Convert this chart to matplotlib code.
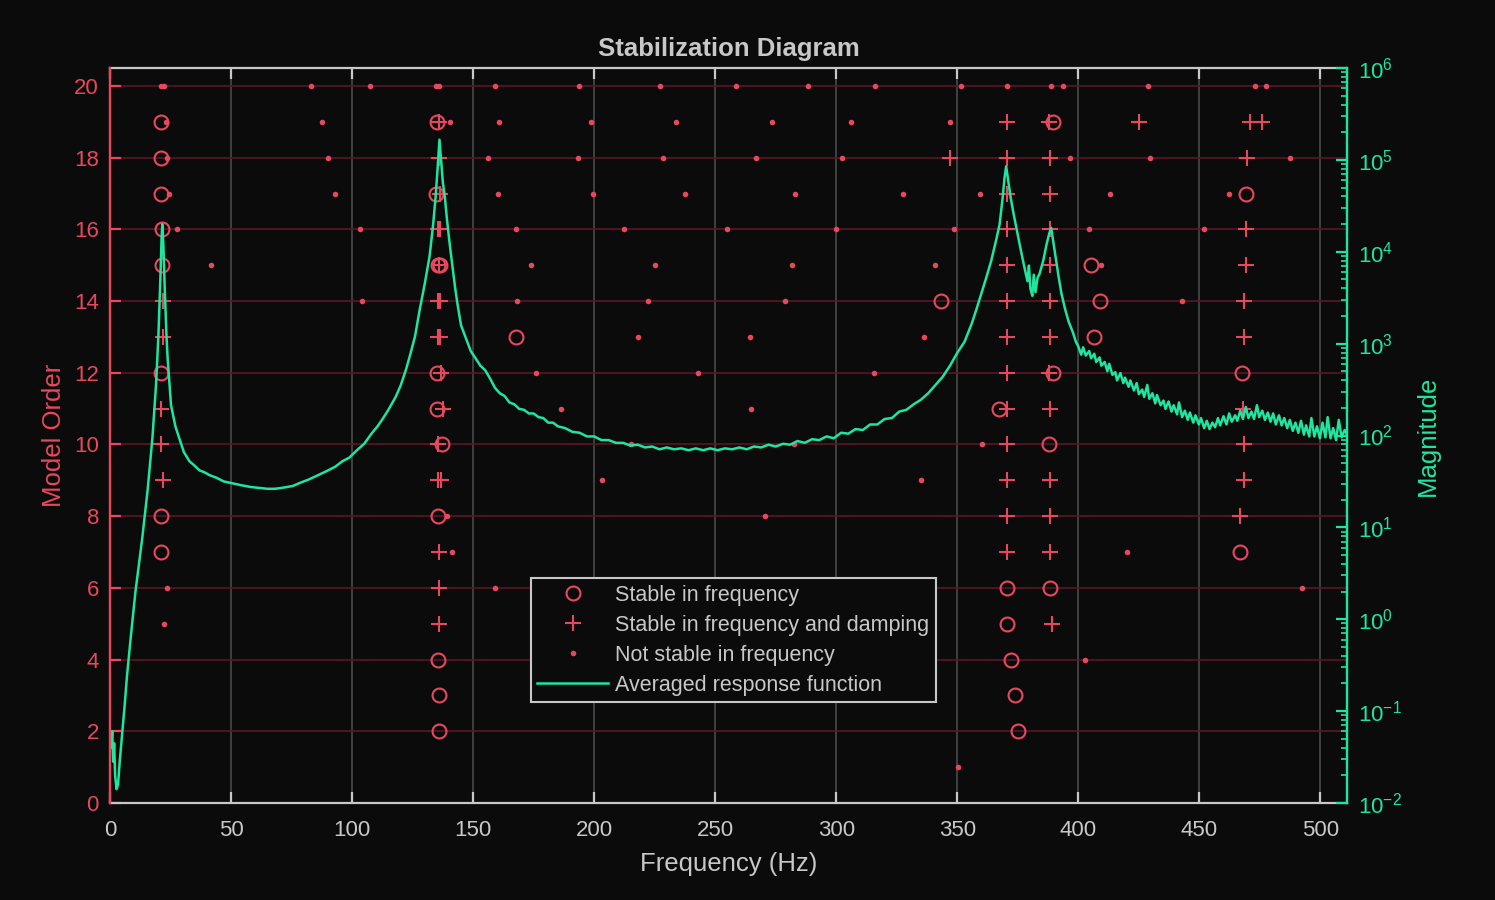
import numpy as np
import matplotlib
matplotlib.use("Agg")
import matplotlib.pyplot as plt
from matplotlib.ticker import LogLocator, NullFormatter, MultipleLocator

plt.rcParams['font.family'] = ['Liberation Sans', 'DejaVu Sans']
plt.rcParams['mathtext.fontset'] = 'custom'
plt.rcParams['mathtext.rm'] = 'Liberation Sans'

# couleurs
BG = '#0b0b0b'
RED = '#e8485e'
GREEN = '#1ee6a0'
GREY = '#c8c8c8'

# poles stables en frequence (cercles)
circ_freq = [21.0, 21.0, 21.0, 21.3, 21.3, 21.0, 21.0, 21.0,
             135.0, 134.7, 135.5, 136.5, 135.1, 135.1, 137.0, 135.4, 135.4, 135.8, 136.1,
             167.6, 343.1,
             367.2, 370.4, 370.4, 372.0, 374.0, 375.1,
             389.7, 405.4, 408.9, 406.3, 389.7, 388.0, 388.2,
             469.4, 467.6, 466.6]
circ_order = [19, 18, 17, 16, 15, 12, 8, 7,
              19, 17, 15, 15, 12, 11, 10, 8, 4, 3, 2,
              13, 14,
              11, 6, 5, 4, 3, 2,
              19, 15, 14, 13, 12, 10, 6,
              17, 12, 7]

# poles stables en frequence et amortissement (plus)
plus_freq = [21.7, 21.7, 21.0, 21.0, 21.7,
             136.1, 135.7, 136.5, 135.3, 136.5, 136.0, 135.3, 136.5, 135.3, 136.5,
             136.8, 137.4, 135.5, 135.5, 136.6, 135.7, 135.7, 135.7,
             346.8,
             370.4, 370.4, 370.4, 370.4, 370.4, 370.4, 370.4, 370.4, 370.4, 370.4, 370.4, 370.4, 370.4,
             388.0, 388.2, 388.2, 388.2, 388.2, 388.2, 388.2, 388.0, 388.2, 388.2, 388.2, 388.2, 389.0,
             424.9, 471.1, 475.7, 469.8, 469.3, 469.3, 468.4, 468.4, 468.0, 468.4, 468.4, 466.9]
plus_order = [14, 13, 11, 10, 9,
              19, 18, 17, 16, 16, 15, 14, 14, 13, 13,
              12, 11, 10, 9, 9, 7, 6, 5,
              18,
              19, 18, 17, 16, 15, 14, 13, 12, 11, 10, 9, 8, 7,
              19, 18, 17, 16, 15, 14, 13, 12, 11, 9, 8, 7, 5,
              19, 19, 19, 18, 16, 15, 14, 13, 11, 10, 9, 8]

# poles non stables (points)
dot_freq = [21.2, 22.4, 83.2, 107.6, 134.8, 136.1, 159.2, 193.9, 227.0, 258.4, 288.2, 316.2,
            351.4, 370.4, 388.6, 393.5, 428.7, 472.9, 477.4,
            23.1, 87.6, 140.5, 160.6, 198.6, 233.9, 273.4, 306.2, 346.8,
            23.5, 90.1, 156.3, 193.4, 228.5, 266.7, 302.2, 396.4, 429.5, 487.3,
            24.2, 93.0, 160.2, 199.6, 237.7, 282.9, 327.7, 359.3, 412.9, 462.2,
            27.7, 103.1, 167.8, 212.2, 254.8, 299.7, 348.5, 404.3, 452.1,
            41.6, 174.0, 225.3, 281.8, 341.0, 409.3,
            104.0, 168.0, 222.4, 278.8, 442.8,
            218.3, 264.5, 336.1,
            176.0, 242.7, 315.7,
            186.1, 264.9,
            215.3, 282.6, 360.2,
            203.3, 335.1,
            139.1, 270.4,
            141.3, 420.2,
            23.5, 159.2, 492.6,
            22.1,
            402.9,
            350.5]
dot_order = [20] * 19 + [19] * 9 + [18] * 10 + [17] * 10 + [16] * 9 + [15] * 6 + [14] * 5 \
    + [13] * 3 + [12] * 3 + [11] * 2 + [10] * 3 + [9] * 2 + [8] * 2 + [7] * 2 + [6] * 3 \
    + [5] + [4] + [1]

# fonction de reponse moyenne : (frequence, log10 magnitude)
resp_low = [(0.0, -1.28), (0.5, -1.40), (0.9, -1.22), (1.3, -1.55), (1.7, -1.35), (2.1, -1.70),
            (2.7, -1.85), (3.3, -1.80), (4.0, -1.55), (5.0, -1.25), (6.0, -0.95), (7.0, -0.62),
            (8.5, -0.21), (10.5, 0.30), (13.3, 0.88), (15.5, 1.40), (17.5, 1.97), (19.0, 2.55),
            (20.0, 3.10), (20.8, 3.71), (21.3, 4.15), (21.6, 4.30), (22.0, 4.10), (22.6, 3.60),
            (23.3, 3.10), (23.8, 2.84), (25.2, 2.33), (27.0, 2.10), (28.6, 1.97), (30.5, 1.82),
            (32.8, 1.72), (35.0, 1.67), (37.0, 1.62), (39.0, 1.60), (41.0, 1.57), (44.0, 1.54),
            (47.0, 1.50), (50.5, 1.48), (54.0, 1.46), (58.0, 1.44), (61.7, 1.43), (65.0, 1.42),
            (68.0, 1.42), (71.0, 1.43), (75.4, 1.45), (79.0, 1.49), (82.0, 1.52), (86.0, 1.57),
            (89.3, 1.61), (93.0, 1.66), (96.0, 1.72), (98.9, 1.76), (102.0, 1.84), (105.0, 1.91),
            (108.0, 2.02), (110.5, 2.10), (112.6, 2.18), (115.0, 2.28), (118.0, 2.42),
            (120.0, 2.54), (122.3, 2.72), (124.0, 2.88), (126.0, 3.08), (128.0, 3.38),
            (130.0, 3.65), (132.0, 3.95), (133.5, 4.30), (134.5, 4.60), (135.3, 4.90),
            (136.1, 5.22), (136.8, 4.98), (137.5, 4.75), (138.3, 4.60), (139.2, 4.35),
            (140.2, 4.11), (141.3, 3.88), (142.5, 3.62), (143.6, 3.42)]
resp_mid = [(145.0, 3.20), (147.0, 3.06), (149.0, 2.92), (151.0, 2.84), (153.0, 2.76),
            (155.0, 2.71), (157.0, 2.62), (159.0, 2.52), (161.0, 2.46), (163.0, 2.43),
            (165.0, 2.36), (167.0, 2.34), (169.0, 2.29), (171.0, 2.28), (173.0, 2.24),
            (175.0, 2.24), (177.0, 2.20), (179.0, 2.19), (181.0, 2.14), (183.0, 2.14),
            (185.0, 2.10), (188.0, 2.08), (191.0, 2.04), (194.0, 2.03), (197.0, 1.99),
            (200.0, 1.99), (203.0, 1.95), (206.0, 1.95), (209.0, 1.92), (212.0, 1.92),
            (215.0, 1.89), (218.0, 1.90), (221.0, 1.87), (224.0, 1.88), (227.0, 1.85),
            (230.0, 1.87), (233.0, 1.85), (236.0, 1.86), (239.0, 1.84), (242.0, 1.86),
            (245.0, 1.84), (248.0, 1.86), (251.0, 1.84), (254.0, 1.86), (257.0, 1.85),
            (260.0, 1.87), (263.0, 1.85), (266.0, 1.88), (269.0, 1.87), (272.0, 1.90),
            (275.0, 1.88), (278.0, 1.91), (281.0, 1.90), (284.0, 1.94), (287.0, 1.92),
            (290.0, 1.96), (293.0, 1.95), (296.0, 1.99), (299.0, 1.97), (302.0, 2.03),
            (305.0, 2.02), (308.0, 2.07), (311.0, 2.06), (314.0, 2.12), (317.0, 2.12),
            (320.0, 2.18), (323.0, 2.19), (326.0, 2.26), (329.0, 2.28), (332.0, 2.34),
            (335.0, 2.39), (338.0, 2.46), (341.0, 2.55), (344.0, 2.64), (347.0, 2.76),
            (350.0, 2.90), (353.0, 3.02), (356.0, 3.22), (358.0, 3.38), (360.0, 3.55),
            (362.0, 3.72), (364.0, 3.90), (366.0, 4.12), (367.5, 4.30), (368.8, 4.60),
            (369.5, 4.80), (370.2, 4.93), (371.0, 4.78), (372.0, 4.60), (373.0, 4.45),
            (374.5, 4.25), (376.0, 4.05), (377.5, 3.86), (379.0, 3.68), (379.6, 3.85),
            (380.2, 3.60), (381.0, 3.52), (381.6, 3.75), (382.3, 3.56), (383.2, 3.72),
            (384.0, 3.76), (385.5, 3.90), (386.8, 4.07), (388.0, 4.20), (388.8, 4.26),
            (389.6, 4.12), (390.6, 3.95), (391.8, 3.74), (393.0, 3.55), (394.5, 3.38),
            (396.0, 3.24), (397.8, 3.12), (399.0, 3.02)]
resp_tail = [(400.0, 2.97), (401.2, 2.88), (402.0, 2.96), (403.1, 2.87), (404.5, 2.92),
             (405.3, 2.84), (406.6, 2.89), (407.4, 2.80), (408.8, 2.85), (409.5, 2.76),
             (410.9, 2.80), (412.0, 2.70), (412.8, 2.78), (414.1, 2.66), (415.3, 2.69),
             (416.0, 2.60), (417.4, 2.68), (418.6, 2.57), (419.3, 2.63), (420.8, 2.53),
             (421.5, 2.60), (423.0, 2.49), (424.1, 2.57), (425.0, 2.45), (426.4, 2.50),
             (427.2, 2.42), (428.5, 2.55), (429.3, 2.40), (430.6, 2.46), (431.8, 2.35),
             (432.5, 2.44), (434.0, 2.33), (435.2, 2.38), (436.0, 2.29), (437.3, 2.37),
             (438.5, 2.26), (439.4, 2.33), (440.8, 2.23), (441.6, 2.36), (442.9, 2.20),
             (444.0, 2.27), (445.2, 2.17), (446.1, 2.25), (447.5, 2.14), (448.4, 2.22),
             (449.8, 2.12), (450.7, 2.19), (452.0, 2.08), (453.1, 2.16), (454.2, 2.07),
             (455.4, 2.14), (456.5, 2.09), (457.7, 2.19), (458.6, 2.11), (460.0, 2.21),
             (461.2, 2.12), (462.3, 2.24), (463.4, 2.15), (464.8, 2.22), (465.7, 2.16),
             (466.9, 2.27), (468.0, 2.18), (469.2, 2.31), (470.3, 2.19), (471.5, 2.26),
             (472.6, 2.18), (473.8, 2.33), (474.7, 2.20), (476.0, 2.27), (477.1, 2.17),
             (478.3, 2.25), (479.4, 2.15), (480.5, 2.24), (481.6, 2.12), (482.9, 2.22),
             (484.0, 2.11), (485.1, 2.19), (486.3, 2.08), (487.4, 2.17), (488.6, 2.05),
             (489.7, 2.14), (490.9, 2.03), (492.0, 2.16), (493.2, 2.01), (494.1, 2.11),
             (495.4, 1.99), (496.3, 2.19), (497.5, 1.99), (498.6, 2.10), (499.8, 1.97),
             (500.9, 2.14), (502.1, 1.98), (503.0, 2.20), (504.2, 1.97), (505.3, 2.08),
             (506.5, 1.95), (507.6, 2.17), (508.8, 1.98), (510.0, 2.06), (511.0, 2.01)]

resp = np.array(resp_low + resp_mid + resp_tail)

fig = plt.figure(figsize=(14.95, 9), dpi=100, facecolor=BG)
ax = fig.add_axes([0.0736, 0.1078, 0.8274, 0.8166], facecolor=BG)
ax2 = ax.twinx()

# diagramme de stabilisation (axe gauche)
h1, = ax.plot(circ_freq, circ_order, 'o', mfc='none', mec=RED, mew=1.5, ms=10,
              label='Stable in frequency')
h2, = ax.plot(plus_freq, plus_order, '+', color=RED, mew=1.5, ms=12,
              label='Stable in frequency and damping')
h3, = ax.plot(dot_freq, dot_order, 'o', color=RED, mec='none', ms=4,
              label='Not stable in frequency')

ax.set_xlim(0, 511)
ax.set_ylim(0, 20.5)
ax.xaxis.set_major_locator(MultipleLocator(50))
ax.yaxis.set_major_locator(MultipleLocator(2))
ax.grid(axis='x', color='#4a4a4a', lw=1.2)
ax.grid(axis='y', color='#5a1626', lw=1.2)
ax.set_axisbelow(True)

# reponse moyenne (axe droit, log)
h4, = ax2.semilogy(resp[:, 0], np.power(10.0, resp[:, 1]), color=GREEN, lw=1.8,
                   label='Averaged response function')
ax2.set_ylim(1e-2, 1e6)
ax2.yaxis.set_major_locator(LogLocator(base=10, numticks=20))
ax2.yaxis.set_minor_locator(LogLocator(base=10, subs=np.arange(2, 10), numticks=20))
ax2.yaxis.set_minor_formatter(NullFormatter())

# style des axes
for a in (ax, ax2):
    a.spines['left'].set_color(RED)
    a.spines['right'].set_color(GREEN)
    a.spines['left'].set_linewidth(1.6)
    a.spines['right'].set_linewidth(1.6)
    a.spines['top'].set_visible(False)
    a.spines['bottom'].set_visible(False)
    a.xaxis.offsetText.set_visible(False)
    a.yaxis.offsetText.set_visible(False)
for s in ['top', 'bottom']:
    ax.spines[s].set_visible(True)
    ax.spines[s].set_color(GREY)
    ax.spines[s].set_linewidth(1.6)

ax.tick_params(axis='x', which='both', direction='in', top=True, bottom=True,
               colors=GREY, labelsize=16, length=8, width=1.6, pad=12)
ax.tick_params(axis='y', direction='in', left=True, right=False, colors=RED,
               labelsize=16, length=8, width=1.6, pad=8)
ax2.tick_params(axis='y', which='major', direction='in', colors=GREEN,
                labelsize=16, length=8, width=1.6, pad=8)
ax2.tick_params(axis='y', which='minor', direction='in', colors=GREEN,
                length=4, width=1.2)

ax.set_title('Stabilization Diagram', color=GREY, fontsize=18.5, fontweight='bold', pad=9)
ax.set_xlabel('Frequency (Hz)', color=GREY, fontsize=18.5, labelpad=8)
ax.set_ylabel('Model Order', color=RED, fontsize=18.5, labelpad=6)
ax2.set_ylabel('Magnitude', color=GREEN, fontsize=18.5, labelpad=10)

leg = ax2.legend(handles=[h1, h2, h3, h4], loc='upper left',
                 bbox_to_anchor=(0.3403, 0.306), borderaxespad=0,
                 fontsize=15.5, facecolor=BG, edgecolor=GREY, framealpha=1,
                 fancybox=False, handlelength=3.3, labelspacing=0.42,
                 borderpad=0.3, handletextpad=0.3)
leg.get_frame().set_linewidth(1.5)
for t in leg.get_texts():
    t.set_color(GREY)

fig.savefig('out.png', dpi=100, facecolor=BG)
